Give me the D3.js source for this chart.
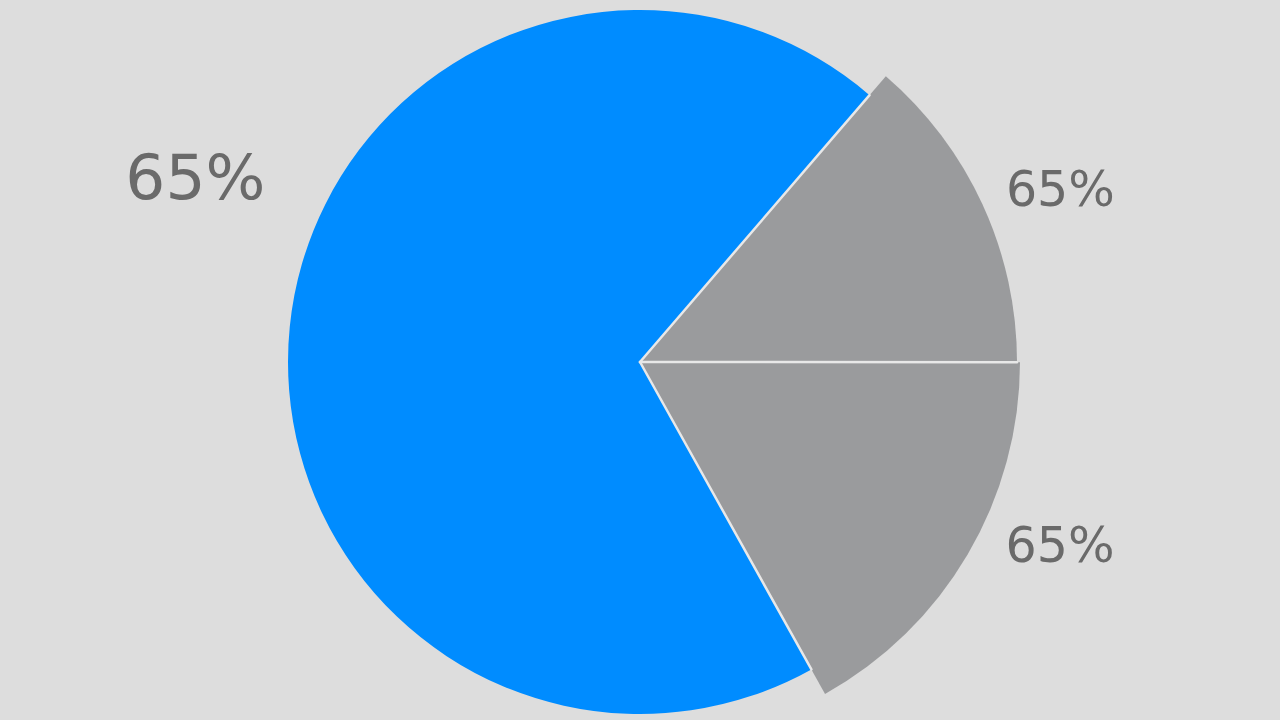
<!DOCTYPE html>
<html>
<head>
<meta charset="utf-8">
<script src="https://cdn.jsdelivr.net/npm/d3@7"></script>
<style>
  html, body { margin: 0; padding: 0; background: #dddddd; }
  svg { display: block; }
</style>
</head>
<body>
<div id="chart"></div>
<script>
// Datos del gráfico (porcentaje de cada sector)
const categories = ["gris superior", "gris inferior", "azul"];
const values = [13.7, 16.9, 69.4];
const labels = ["65%", "65%", "65%"];
const colors = ["#9a9b9d", "#9a9b9d", "#008cff"];

const width = 1280;
const height = 720;
const cx = 640, cy = 362;

// Radio exterior: los sectores grises sobresalen un poco
const outerR = [377, 380, 352];
// Posición de etiquetas (ángulo en grados, radio)
const labelPos = [[67.5, 455], [113.5, 458], [292.7, 482]];
const labelSize = [49, 49, 63];

const svg = d3.select("#chart")
    .append("svg")
    .attr("width", width)
    .attr("height", height);

const g = svg.append("g")
    .attr("transform", "translate(" + cx + "," + cy + ")");

// Layout de pie
const pie = d3.pie()
    .sort(null)
    .value(d => d)
    .startAngle(40.7 * Math.PI / 180)
    .endAngle((40.7 + 360) * Math.PI / 180);

const arcs = pie(values);

// Dibujar los sectores
g.selectAll("path")
    .data(arcs)
    .enter().append("path")
    .attr("d", (d, i) => d3.arc().innerRadius(0).outerRadius(outerR[i])(d))
    .attr("fill", (d, i) => colors[i]);

// Líneas blancas de separación entre sectores (solo los bordes radiales)
g.selectAll("line")
    .data(arcs)
    .enter().append("line")
    .attr("x1", 0)
    .attr("y1", 0)
    .attr("x2", (d, i) => {
        const r = Math.min(outerR[i], outerR[(i + arcs.length - 1) % arcs.length]);
        return r * Math.sin(d.startAngle);
    })
    .attr("y2", (d, i) => {
        const r = Math.min(outerR[i], outerR[(i + arcs.length - 1) % arcs.length]);
        return -r * Math.cos(d.startAngle);
    })
    .attr("stroke", "#e8e8e8")
    .attr("stroke-width", 2.5)
    .attr("stroke-linecap", "round");

// Etiquetas
g.selectAll("text")
    .data(labels)
    .enter().append("text")
    .attr("x", (d, i) => labelPos[i][1] * Math.sin(labelPos[i][0] * Math.PI / 180))
    .attr("y", (d, i) => -labelPos[i][1] * Math.cos(labelPos[i][0] * Math.PI / 180))
    .attr("dy", "0.36em")
    .attr("text-anchor", "middle")
    .attr("font-family", "'DejaVu Sans', sans-serif")
    .attr("font-size", (d, i) => labelSize[i])
    .attr("fill", "#6a6a6a")
    .text(d => d);
</script>
</body>
</html>
